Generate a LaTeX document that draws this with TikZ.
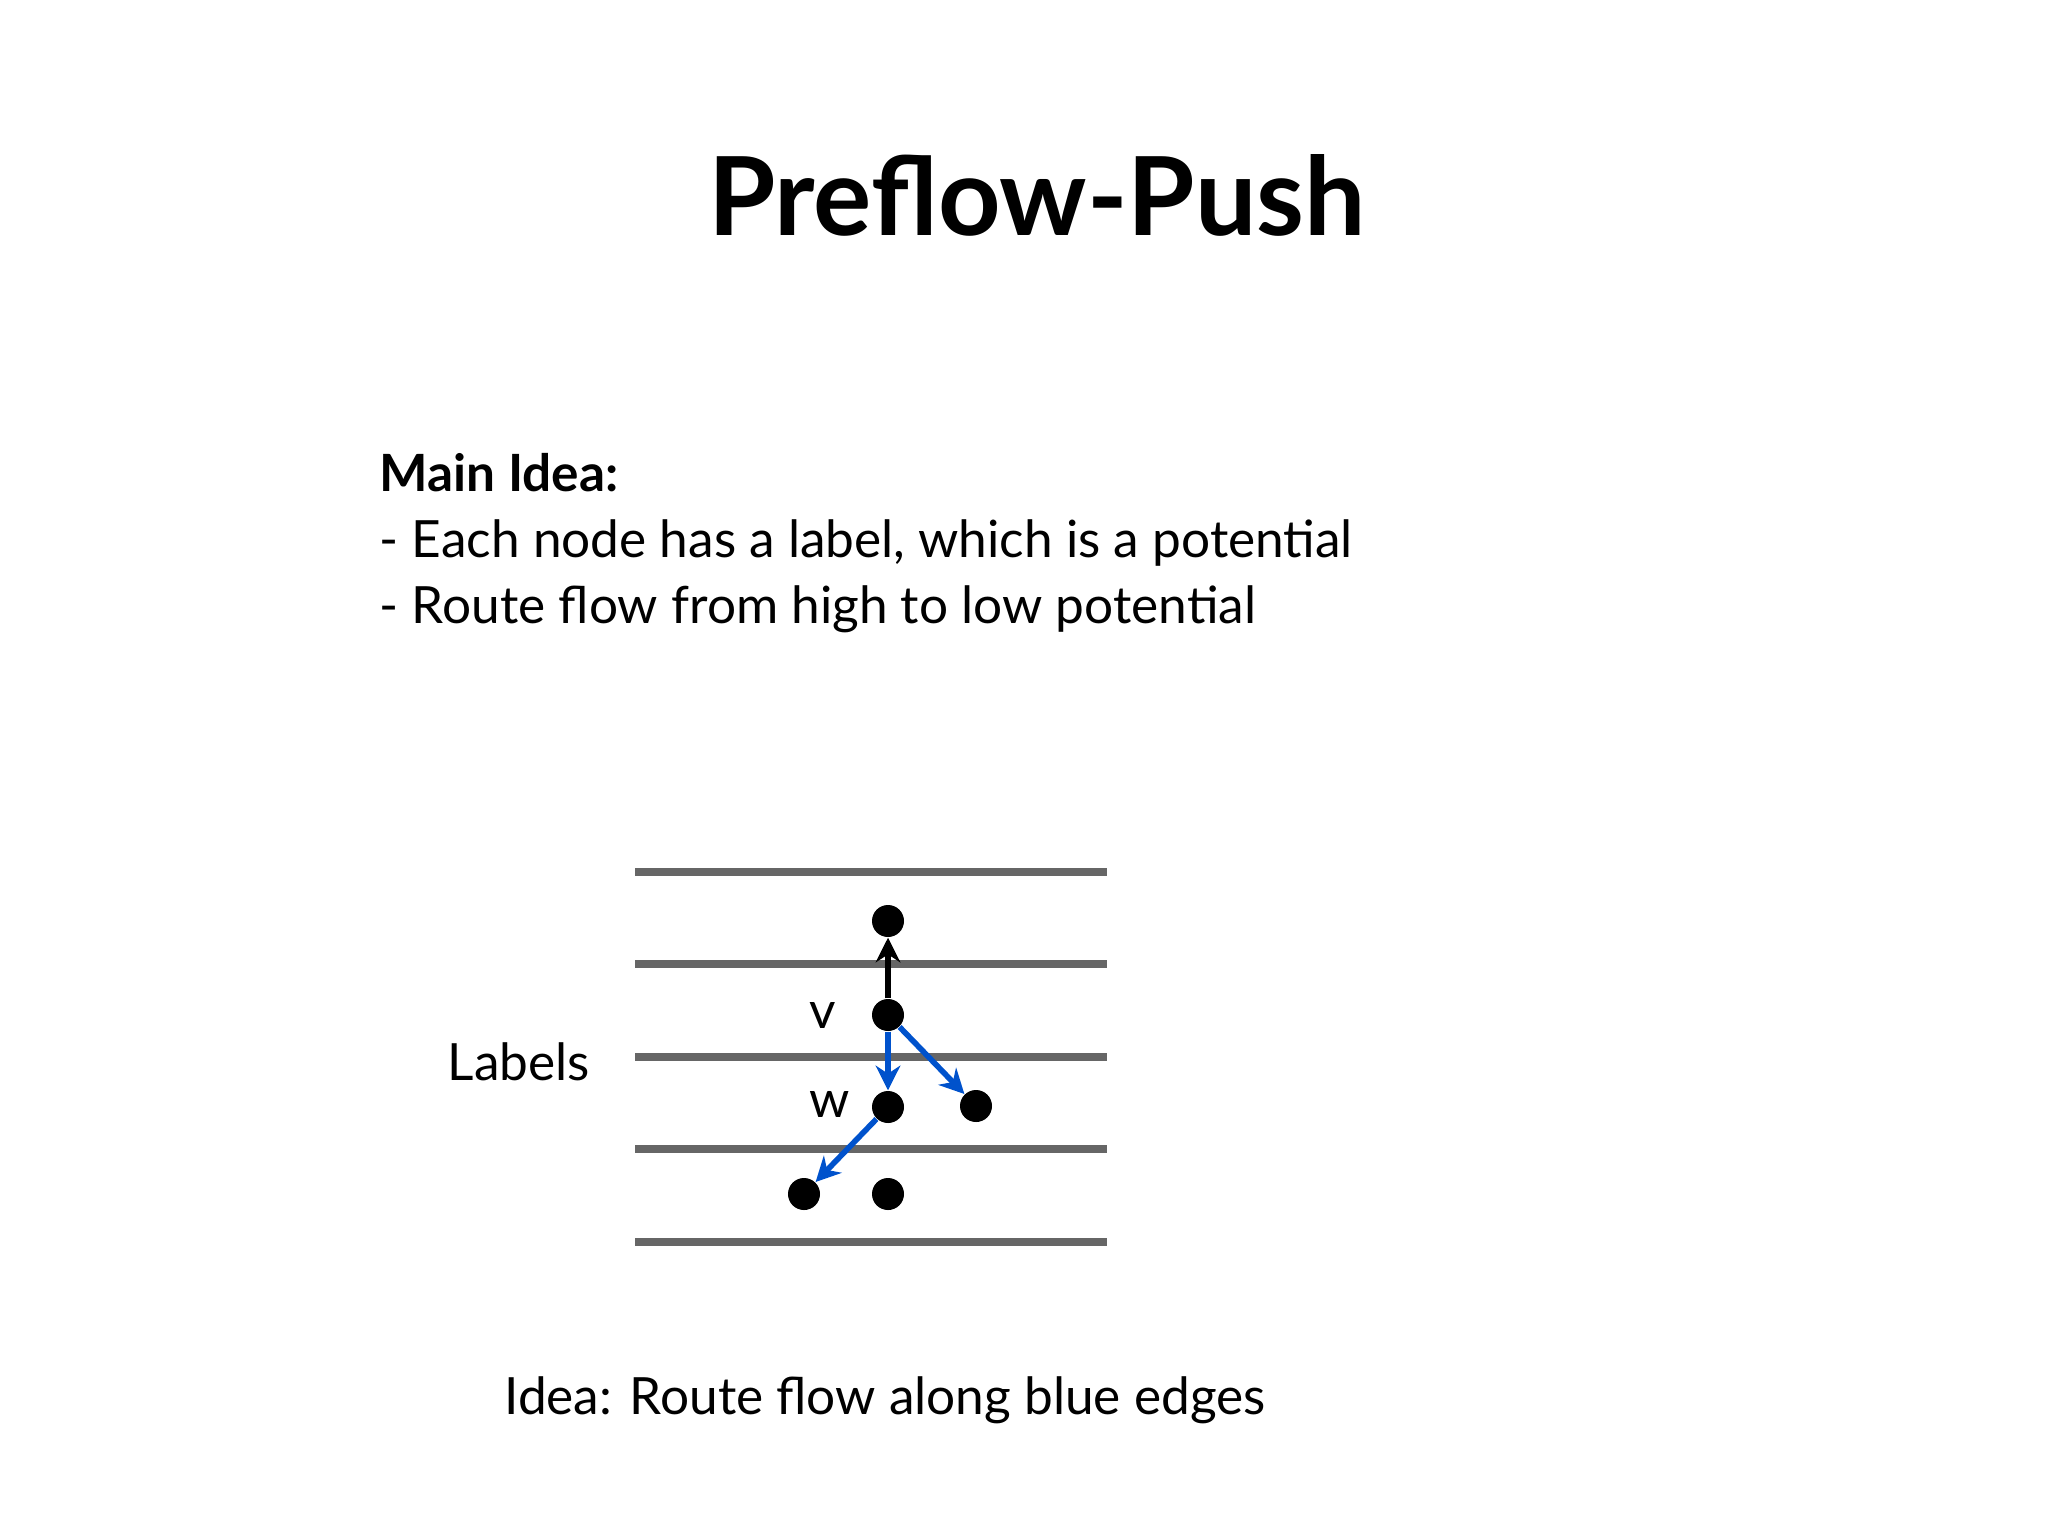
\documentclass[tikz,border=0pt]{standalone}
\usepackage{fontspec}
\setmainfont{Lato}
\usetikzlibrary{arrows.meta}
\begin{document}
\begin{tikzpicture}[x=0.01cm,y=-0.01cm,
  level/.style={draw=black!60,line width=2.2pt},
  dot/.style={circle,fill=black,inner sep=0pt,minimum size=0.32cm},
  push/.style={draw=blue!60!cyan!80!black,line width=1.6pt,-{Stealth[length=7pt,width=7pt]}},
  lbl/.style={font=\fontsize{14.6}{17}\selectfont,inner sep=0pt}]
\useasboundingbox (0,0) rectangle (2048,1536);
\node[font=\fontsize{31}{36}\selectfont\bfseries] (title) at (1037,195) {Preflow-Push};
\node[lbl,anchor=west,font=\fontsize{14.6}{17}\selectfont\bfseries] (mi) at (379,473) {Main Idea:};
\node[lbl,anchor=west] (l1) at (379,543) {- Each node has a label, which is a potential};
\node[lbl,anchor=west] (l2) at (379,609) {- Route flow from high to low potential};
\foreach \y/\n in {872/a,964/b,1057/c,1149/d,1242/e}
  \draw[level] (635,\y) coordinate (\n1) -- (1107,\y) coordinate (\n2);
\node[dot] (top) at (888,921) {};
\node[dot] (v) at (888,1015) {};
\node[dot] (w) at (888,1107) {};
\node[dot] (r) at (976,1106) {};
\node[dot] (bl) at (804,1194) {};
\node[dot] (br) at (888,1194) {};
\draw[line width=1.6pt,-{Stealth[length=7pt,width=7pt]}] (v) -- (top);
\draw[push] (v) -- (w);
\draw[push] (v) -- (r);
\draw[push] (w) -- (bl);
\node[lbl] (vl) at (823,1015) {v};
\node[lbl] (wl) at (830,1104) {w};
\node[lbl,anchor=west] (labels) at (447,1062) {Labels};
\node[lbl] (idea) at (885,1400) {Idea: Route flow along blue edges};
\end{tikzpicture}
\end{document}
